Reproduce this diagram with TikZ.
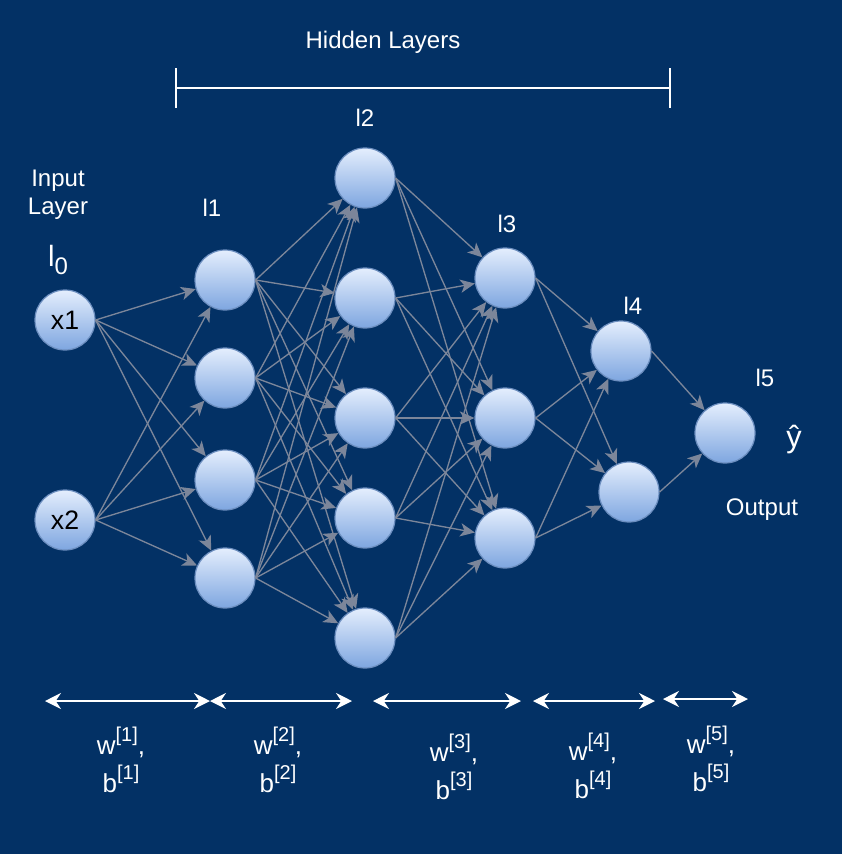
\documentclass[tikz,border=0pt]{standalone}
\usepackage{fontspec}
\setmainfont{Liberation Sans}
\usetikzlibrary{arrows.meta}

\definecolor{bgnavy}{RGB}{3,49,101}
\definecolor{edgegray}{RGB}{124,134,154}
\definecolor{nodetop}{RGB}{228,238,253}
\definecolor{nodebot}{RGB}{126,166,224}
\definecolor{nodeborder}{RGB}{108,142,191}

\newcommand{\wsup}[1]{\raisebox{0.5em}{\fontsize{15}{15}\selectfont #1}}

\tikzset{
  neuron/.style={circle, minimum size=45pt, inner sep=0pt, draw=nodeborder, line width=0.9pt,
    top color=nodetop, bottom color=nodebot, text=black, font=\fontsize{20}{24}\selectfont},
  link/.style={draw=edgegray, line width=1pt, -{Stealth[length=11pt,width=10pt,inset=3pt]}},
  lbl/.style={text=white, inner sep=0pt, align=center, font=\fontsize{18}{21}\selectfont},
  wlbl/.style={text=white, inner sep=0pt, align=center, font=\fontsize{19.5}{29}\selectfont},
  span/.style={draw=white, line width=1.5pt, {Stealth[length=12pt,width=12pt,inset=4pt]}-{Stealth[length=12pt,width=12pt,inset=4pt]}},
  brace/.style={draw=white, line width=1.5pt}
}

\begin{document}
\begin{tikzpicture}[x=0.75pt,y=0.75pt,yscale=-1]
  \useasboundingbox (0,0) rectangle (842,854);
  \fill [bgnavy] (0,0) rectangle (842,854);

  % Input layer
  \node [neuron] (n0-1) at (65,320) {x1};
  \node [neuron] (n0-2) at (65,520) {x2};
  % Hidden layers
  \foreach \y [count=\i] in {280,378,480,578}
    \node [neuron] (n1-\i) at (225,\y) {};
  \foreach \y [count=\i] in {178,298,418,518,638}
    \node [neuron] (n2-\i) at (365,\y) {};
  \foreach \y [count=\i] in {278,418,538}
    \node [neuron] (n3-\i) at (505,\y) {};
  \node [neuron] (n4-1) at (621,351) {};
  \node [neuron] (n4-2) at (629,492) {};
  % Output
  \node [neuron] (n5-1) at (725,433) {};

  % Links
  \foreach \a in {1,2}
    \foreach \b in {1,...,4}
      \draw [link] (n0-\a.east) -- (n1-\b);
  \foreach \a in {1,...,4}
    \foreach \b in {1,...,5}
      \draw [link] (n1-\a.east) -- (n2-\b);
  \foreach \a in {1,...,5}
    \foreach \b in {1,2,3}
      \draw [link] (n2-\a.east) -- (n3-\b);
  \foreach \a in {1,2,3}
    \foreach \b in {1,2}
      \draw [link] (n3-\a.east) -- (n4-\b);
  \foreach \a in {1,2}
    \draw [link] (n4-\a.east) -- (n5-1);

  % Text Node
  \node [lbl] (inlayer) at (58,195) {Input\\Layer};
  \node [lbl] (hidden) at (383,42) {Hidden Layers};
  \node [lbl, font=\fontsize{22}{26}\selectfont] (l0) at (58,260)
    {l\raisebox{-0.3em}{\fontsize{18}{18}\selectfont 0}};
  \node [lbl] (l1) at (212,208) {l1};
  \node [lbl] (l2) at (365,118) {l2};
  \node [lbl] (l3) at (507,224) {l3};
  \node [lbl] (l4) at (633,306) {l4};
  \node [lbl] (l5) at (765,378) {l5};
  \node [lbl, font=\fontsize{23}{26}\selectfont] (yhat) at (794,440) {ŷ};
  \node [lbl] (output) at (762,510) {Output};

  % Hidden layers bracket
  \coordinate (hl) at (176,88);
  \coordinate (hr) at (670,88);
  \draw [brace] (hl) -- (hr);
  \draw [brace] ([yshift=-15pt]hl) -- ([yshift=15pt]hl);
  \draw [brace] ([yshift=-15pt]hr) -- ([yshift=15pt]hr);

  % Weight spans
  \coordinate (s0) at (45,701);
  \coordinate (s1) at (210,701);
  \coordinate (s1b) at (210,701);
  \coordinate (s2) at (352,701);
  \coordinate (s3a) at (373,701);
  \coordinate (s3) at (521,701);
  \coordinate (s4a) at (533,701);
  \coordinate (s4) at (655,701);
  \coordinate (s5a) at (663,699);
  \coordinate (s5) at (748,699);
  \draw [span] (s0) -- (s1);
  \draw [span] (s1b) -- (s2);
  \draw [span] (s3a) -- (s3);
  \draw [span] (s4a) -- (s4);
  \draw [span] (s5a) -- (s5);

  \node [wlbl] (wb1) at (121,760) {w\wsup{[1]},\\b\wsup{[1]}};
  \node [wlbl] (wb2) at (278,760) {w\wsup{[2]},\\b\wsup{[2]}};
  \node [wlbl] (wb3) at (454,767) {w\wsup{[3]},\\b\wsup{[3]}};
  \node [wlbl] (wb4) at (593,766) {w\wsup{[4]},\\b\wsup{[4]}};
  \node [wlbl] (wb5) at (711,759) {w\wsup{[5]},\\b\wsup{[5]}};
\end{tikzpicture}
\end{document}
